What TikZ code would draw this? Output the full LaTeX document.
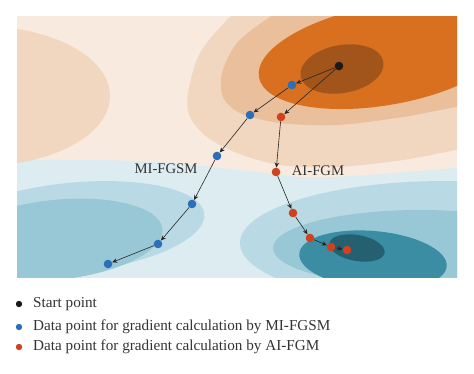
\documentclass[tikz,border=0pt]{standalone}
\usepackage{fontspec}
\setmainfont{Liberation Serif}
\usetikzlibrary{arrows.meta}
\definecolor{bgpeach}{HTML}{F8EADF}
\definecolor{peachA}{HTML}{F1D6C0}
\definecolor{peachB}{HTML}{EAC09C}
\definecolor{orangeC}{HTML}{D8701F}
\definecolor{orangeD}{HTML}{A2551A}
\definecolor{bgblue}{HTML}{DCECF1}
\definecolor{blueA}{HTML}{B9DAE4}
\definecolor{blueB}{HTML}{98C7D5}
\definecolor{tealC}{HTML}{3A8DA2}
\definecolor{tealD}{HTML}{24606F}
\definecolor{dotblue}{HTML}{2A6FBA}
\definecolor{dotred}{HTML}{D2401E}
\definecolor{dotblack}{HTML}{1A1A1A}
\definecolor{txt}{HTML}{333333}
\tikzset{
  pt/.style={circle, inner sep=0pt, minimum size=8.6pt},
  ptk/.style={pt, fill=dotblack},
  ptb/.style={pt, fill=dotblue},
  ptr/.style={pt, fill=dotred},
  lgd/.style={circle, inner sep=0pt, minimum size=6.4pt},
  conn/.style={-{Stealth[length=5pt,width=4.5pt]}, line width=0.6pt, black!85},
  lab/.style={font=\fontsize{14.7}{17}\selectfont, text=txt},
  ltxt/.style={anchor=west, font=\fontsize{15.2}{18}\selectfont, text=txt, inner sep=0pt}
}
\begin{document}
\begin{tikzpicture}[x=1pt,y=-1pt]
\useasboundingbox (0,0) rectangle (474,373);
\begin{scope}
\clip (17,16) rectangle (457,277);
\fill[bgpeach] (17,16) rectangle (457,277);
\fill[bgblue] plot[smooth] coordinates {(5,160) (100,160) (170,163) (240,170) (300,177) (350,176) (470,167)} -- (470,290) -- (5,290) -- cycle;
% left peach blob
\fill[peachA] (-20,96) ellipse [x radius=130, y radius=70];
% orange hill (contours)
\fill[peachA] plot[smooth] coordinates {(265,-10) (230,17) (200,53) (188,93) (190,117) (207,137) (237,153) (280,165) (337,167) (403,160) (470,147)} -- (470,-10) -- cycle;
\fill[peachB] plot[smooth] coordinates {(310,-3) (270,17) (237,43) (222,73) (223,97) (240,113) (280,123) (337,125) (403,117) (470,104)} -- (470,-3) -- cycle;
\fill[orangeC, rotate around={10:(385,55)}] (385,55) ellipse [x radius=128, y radius=50];
\fill[orangeD, rotate around={10:(342,69)}] (342,69) ellipse [x radius=42, y radius=24];
% left blue valley
\fill[blueA, rotate around={6:(70,228)}] (70,228) ellipse [x radius=135, y radius=45];
\fill[blueB, rotate around={6:(55,240)}] (55,240) ellipse [x radius=108, y radius=40];
% right blue valley
\fill[blueA] (445,243) ellipse [x radius=205, y radius=62];
\fill[blueB] (420,248) ellipse [x radius=147, y radius=38];
\fill[tealC, rotate around={-5:(373,260)}] (373,260) ellipse [x radius=74, y radius=29];
\fill[tealD, rotate around={-10:(357,248)}] (357,248) ellipse [x radius=28, y radius=13];
\end{scope}
% points
\node[ptk] (s) at (339,66) {};
\node[ptb] (b1) at (292,85) {};
\node[ptb] (b2) at (250,115) {};
\node[ptb] (b3) at (217,156) {};
\node[ptb] (b4) at (192,204) {};
\node[ptb] (b5) at (158,244) {};
\node[ptb] (b6) at (108,264) {};
\node[ptr] (r1) at (281,117) {};
\node[ptr] (r2) at (276,172) {};
\node[ptr] (r3) at (293,213) {};
\node[ptr] (r4) at (310,238) {};
\node[ptr] (r5) at (331,247) {};
\node[ptr] (r6) at (347,250) {};
% connectors
\draw[conn] (s) -- (b1);
\draw[conn] (b1) -- (b2);
\draw[conn] (b2) -- (b3);
\draw[conn] (b3) -- (b4);
\draw[conn] (b4) -- (b5);
\draw[conn] (b5) -- (b6);
\draw[conn] (s) -- (r1);
\draw[conn] (r1) -- (r2);
\draw[conn] (r2) -- (r3);
\draw[conn] (r3) -- (r4);
\draw[conn] (r4) -- (r5);
\draw[conn] (r5) -- (r6);
% labels
\node[lab] (lmi) at (166,169) {MI-FGSM};
\node[lab] (lai) at (318,171) {AI-FGM};
% legend
\node[lgd, fill=dotblack] (k1) at (19,304) {};
\node[lgd, fill=dotblue] (k2) at (19,327) {};
\node[lgd, fill=dotred] (k3) at (19,347) {};
\node[ltxt] (t1) at (33,304) {Start point};
\node[ltxt] (t2) at (33,327) {Data point for gradient calculation by MI-FGSM};
\node[ltxt] (t3) at (33,347) {Data point for gradient calculation by AI-FGM};
\end{tikzpicture}
\end{document}
